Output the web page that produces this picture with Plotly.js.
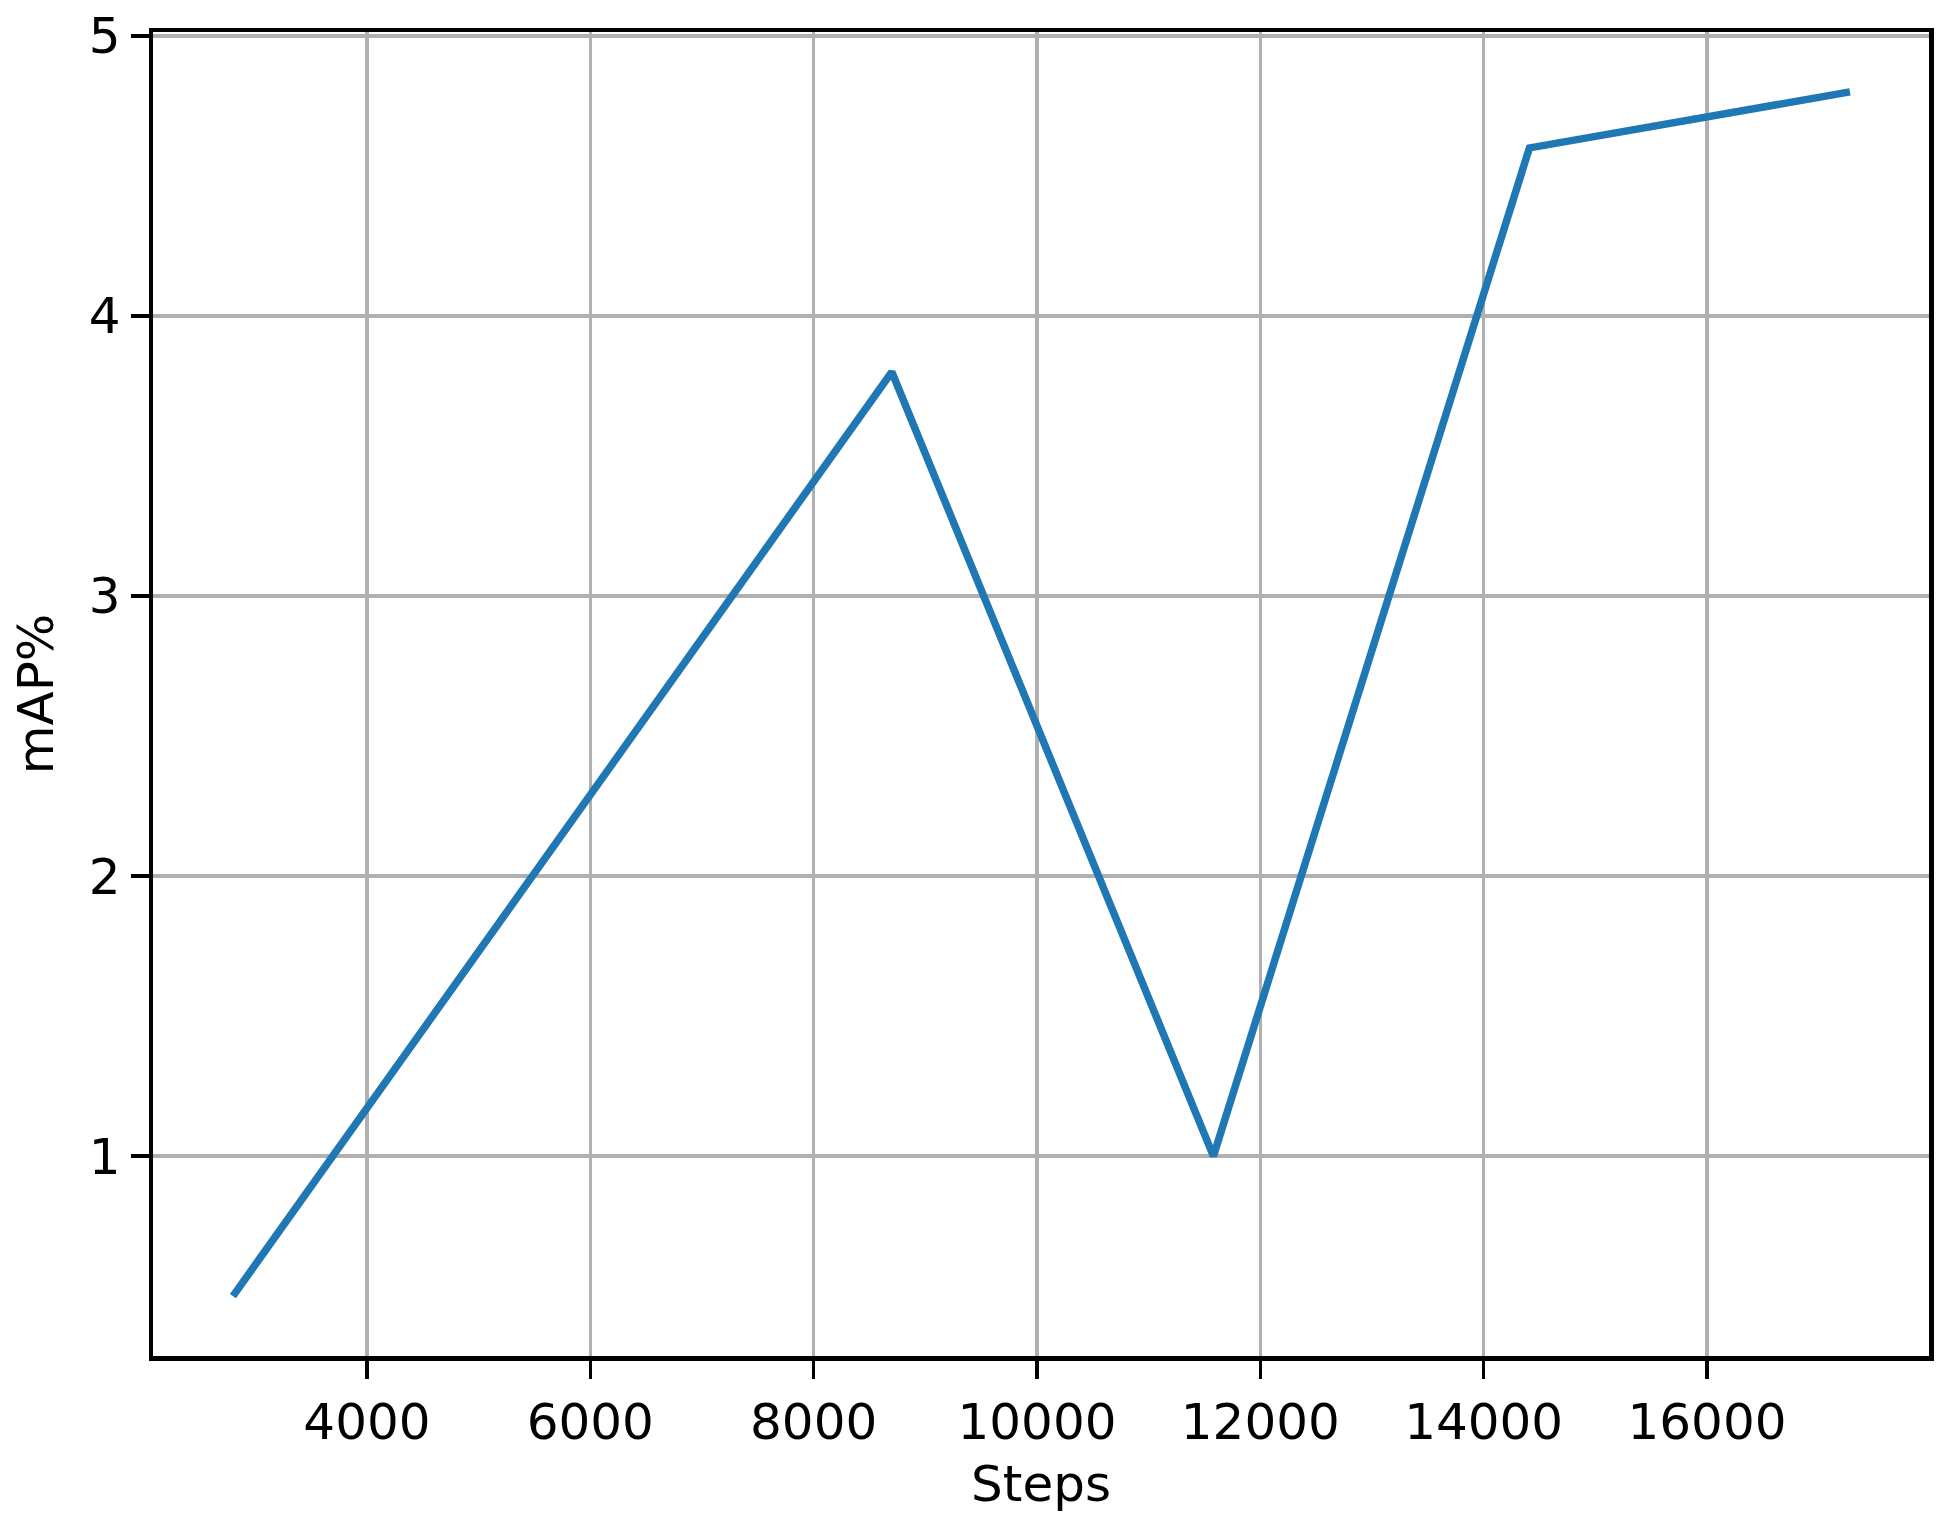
<!DOCTYPE html>
<html>
<head>
<meta charset="utf-8">
<script src="https://cdn.plot.ly/plotly-3.0.1.min.js"></script>
<style>
html,body{margin:0;padding:0;background:#fff;}
#chart{width:1955px;height:1522px;}
</style>
</head>
<body>
<div id="chart"></div>
<script>
var steps = [2800, 8700, 11580, 14410, 17280];
var mapValues = [0.5, 3.8, 1.0, 4.6, 4.8];
var xTickVals = [4000, 6000, 8000, 10000, 12000, 14000, 16000];
var yTickVals = [1, 2, 3, 4, 5];

var font = {family: 'DejaVu Sans, sans-serif', size: 50, color: '#000'};

var trace = {
  x: steps,
  y: mapValues,
  type: 'scatter',
  mode: 'lines',
  line: {color: '#1f77b4', width: 7.5},
  hoverinfo: 'x+y'
};

var layout = {
  width: 1955,
  height: 1522,
  margin: {l: 153, r: 26, t: 32, b: 166, pad: 0},
  paper_bgcolor: '#fff',
  plot_bgcolor: '#fff',
  font: font,
  showlegend: false,
  xaxis: {
    range: [2084, 17988],
    tickvals: xTickVals,
    ticktext: xTickVals.map(String),
    ticks: 'outside',
    ticklen: 18,
    tickwidth: 3.5,
    tickcolor: '#000',
    showgrid: true,
    gridcolor: '#b0b0b0',
    gridwidth: 3.5,
    zeroline: false,
    showline: true,
    linecolor: '#000',
    linewidth: 4.5,
    mirror: true,
    tickfont: font,
    title: {text: 'Steps', font: font, standoff: 18},
    automargin: false
  },
  yaxis: {
    range: [0.286, 5.014],
    tickvals: yTickVals,
    ticktext: yTickVals.map(String),
    ticks: 'outside',
    ticklen: 18,
    tickwidth: 3.5,
    tickcolor: '#000',
    showgrid: true,
    gridcolor: '#b0b0b0',
    gridwidth: 3.5,
    zeroline: false,
    showline: true,
    linecolor: '#000',
    linewidth: 4.5,
    mirror: true,
    tickfont: font,
    title: {text: 'mAP%', font: font, standoff: 20},
    automargin: false
  }
};

Plotly.newPlot('chart', [trace], layout, {displayModeBar: false, staticPlot: true});
</script>
</body>
</html>
